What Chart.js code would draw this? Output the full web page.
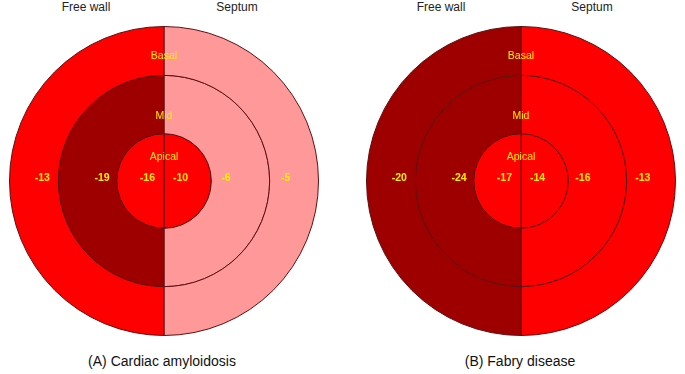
<!DOCTYPE html>
<html>
<head>
<meta charset="utf-8">
<script src="https://cdn.jsdelivr.net/npm/chart.js@4"></script>
<style>
  body { margin: 0; background: #fff; }
  #wrap { position: relative; width: 685px; height: 374px; font-family: "Liberation Sans", Arial, sans-serif; }
  canvas { position: absolute; top: 21px; }
  .lbl { position: absolute; font-size: 12px; color: #222; transform: translateX(-50%); white-space: nowrap; }
  .cap { position: absolute; font-size: 14px; color: #111; transform: translateX(-50%); white-space: nowrap; }
</style>
</head>
<body>
<div id="wrap">
  <canvas id="chartA" width="320" height="320" style="left:4px"></canvas>
  <canvas id="chartB" width="320" height="320" style="left:361px"></canvas>
  <div class="lbl" style="left:86px; top:0px">Free wall</div>
  <div class="lbl" style="left:237px; top:0px">Septum</div>
  <div class="lbl" style="left:441px; top:0px">Free wall</div>
  <div class="lbl" style="left:592px; top:0px">Septum</div>
  <div class="cap" style="left:162px; top:353px">(A) Cardiac amyloidosis</div>
  <div class="cap" style="left:520px; top:353px">(B) Fabry disease</div>
</div>
<script>
// 心筋ストレイン値 (外側から Basal, Mid, Apical)
const rings = ['Basal', 'Mid', 'Apical'];
const sides = ['Septum', 'Free wall'];
const amyloidFreeWall = [-13, -19, -16];
const amyloidSeptum = [-5, -6, -10];
const fabryFreeWall = [-20, -24, -17];
const fabrySeptum = [-13, -16, -14];

// リングの太さ (外側から)
const ringWeights = [49, 58.5, 47.5];
const valueFrac = [0.33, 0.25, 0.35];
const nameFrac = [0.39, 0.3, 0.5];

function strainColor(v) {
    if (v <= -18) return '#9e0000';
    if (v <= -8) return '#ff0000';
    return '#ff9999';
}

const labelPlugin = {
    id: 'ringLabels',
    afterDatasetsDraw(chart) {
        const ctx = chart.ctx;
        ctx.save();
        ctx.fillStyle = '#ffee00';
        ctx.textAlign = 'center';
        ctx.textBaseline = 'middle';
        chart.data.datasets.forEach((ds, i) => {
            const meta = chart.getDatasetMeta(i);
            const arc0 = meta.data[0];
            const inner = arc0.innerRadius, outer = arc0.outerRadius;
            // リング名
            ctx.font = '10.5px "Liberation Sans", Arial, sans-serif';
            const rn = inner + nameFrac[i] * (outer - inner);
            ctx.fillText(ds.label, arc0.x, arc0.y - rn);
            // 値
            ctx.font = 'bold 10.5px "Liberation Sans", Arial, sans-serif';
            const rv = inner + valueFrac[i] * (outer - inner);
            meta.data.forEach((arc, j) => {
                const dir = j === 0 ? 1 : -1;
                ctx.fillText(String(ds.values[j]), arc.x + dir * rv, arc.y - 3);
            });
        });
        ctx.restore();
    }
};

function drawBullseye(id, freeWall, septum) {
    const ctx = document.getElementById(id).getContext('2d');
    return new Chart(ctx, {
        type: 'doughnut',
        data: {
            labels: sides,
            datasets: rings.map((name, i) => ({
                label: name,
                data: [1, 1],
                values: [septum[i], freeWall[i]],
                backgroundColor: [strainColor(septum[i]), strainColor(freeWall[i])],
                borderColor: '#5c1010',
                borderWidth: 1,
                weight: ringWeights[i]
            }))
        },
        options: {
            responsive: false,
            animation: false,
            cutout: 0,
            layout: { padding: 5 },
            plugins: {
                legend: { display: false },
                tooltip: { enabled: false }
            }
        },
        plugins: [labelPlugin]
    });
}

drawBullseye('chartA', amyloidFreeWall, amyloidSeptum);
drawBullseye('chartB', fabryFreeWall, fabrySeptum);
</script>
</body>
</html>
